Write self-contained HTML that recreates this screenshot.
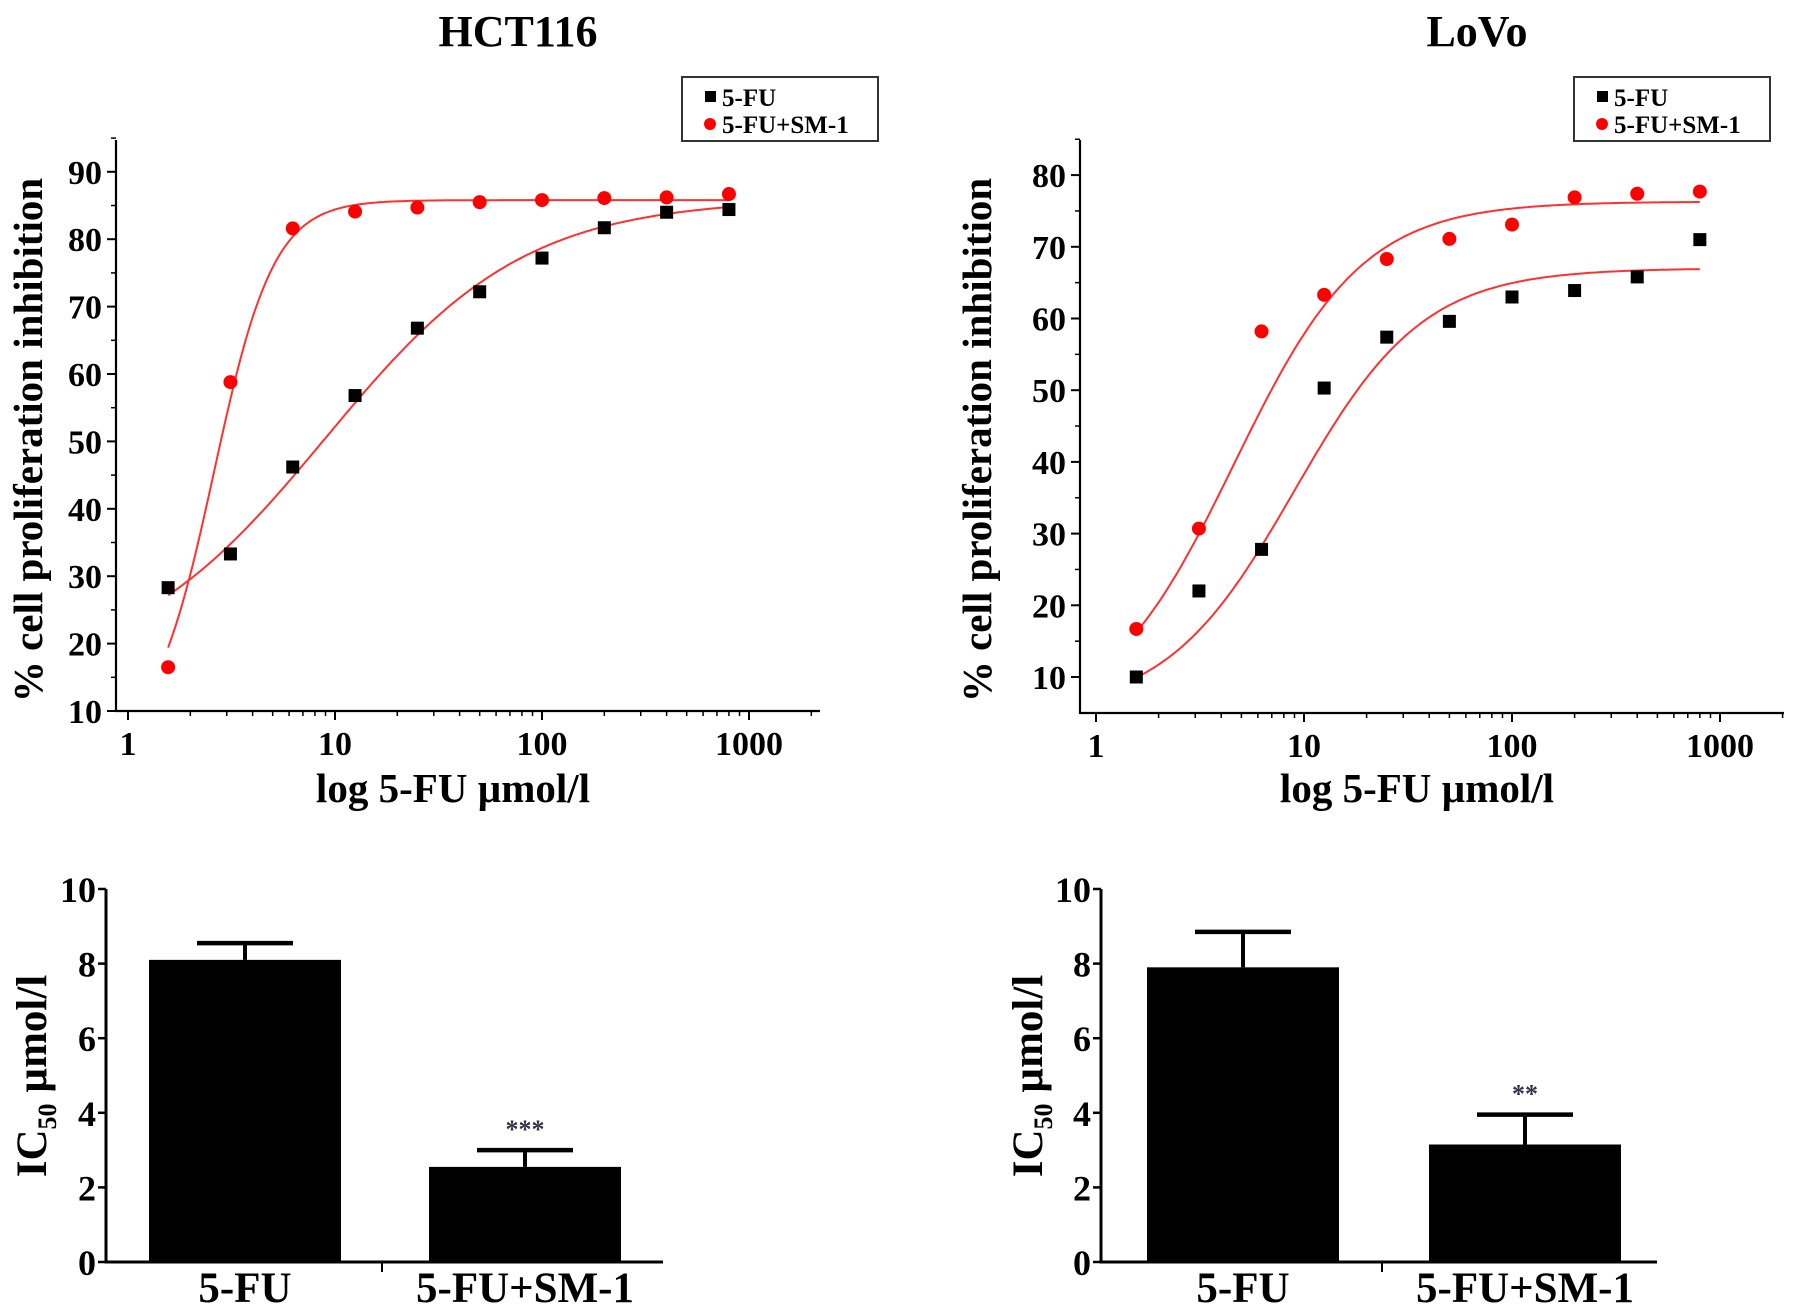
<!DOCTYPE html>
<html><head><meta charset="utf-8"><style>
html,body{margin:0;padding:0;background:#fff;}
svg{display:block;font-family:"Liberation Serif",serif;font-weight:bold;}
</style></head><body>
<svg id="fig" width="1795" height="1310" viewBox="0 0 1795 1310"></svg>
<script>
const doses = [1.5625,3.125,6.25,12.5,25,50,100,200,400,800];
const hctFU = [28.3,33.3,46.2,56.8,66.8,72.2,77.2,81.7,84.0,84.4];
const hctSM = [16.5,58.8,81.6,84.1,84.7,85.5,85.8,86.1,86.2,86.7];
const lovoFU = [10.0,22.0,27.8,50.3,57.4,59.6,63.0,63.9,65.8,71.0];
const lovoSM = [16.7,30.7,58.2,63.3,68.3,71.1,73.1,76.9,77.4,77.7];
// fitted curve parameters [bottom, top, ec50, hill]
const hctFUfit = [15,86,9,0.9];
const hctSMfit = [5,85.8,2.6,3];
const lovoFUfit = [5,67,9,1.4];
const lovoSMfit = [3,76.3,4.6,1.4];
const xTickLabels = ["1","10","100","1000"];
const hctYTicks = [10,20,30,40,50,60,70,80,90];
const lovoYTicks = [10,20,30,40,50,60,70,80];
const barCategories = ["5-FU","5-FU+SM-1"];
const hctIC50 = [8.1,2.55];
const hctErr = [0.45,0.45];
const lovoIC50 = [7.9,3.15];
const lovoErr = [0.95,0.8];
const barYTicks = [0,2,4,6,8,10];
const hctStars = "***";
const lovoStars = "**";

const svg = document.getElementById('fig');
const NS = 'http://www.w3.org/2000/svg';
function el(tag, attrs, parent, text){
  const e = document.createElementNS(NS, tag);
  for (const k in attrs) e.setAttribute(k, attrs[k]);
  if (text !== undefined) e.textContent = text;
  (parent||svg).appendChild(e);
  return e;
}

function lineChart(cfg){
  const g = el('g',{});
  
  
  const xs = v => cfg.x1 + Math.log10(v)*cfg.dec;
  const ys = v => cfg.yBase - (v - cfg.yRef)*cfg.ppu;
  const ax = el('path',{d:`M${cfg.ax} ${cfg.top} V${cfg.axY} H${cfg.right}`,stroke:'#000','stroke-width':2.2,fill:'none'},g);
  
  
  cfg.yTicks.forEach(t=>{
    const y = ys(t);
    el('line',{x1:cfg.ax-9,x2:cfg.ax,y1:y,y2:y,stroke:'#000','stroke-width':2},g);
    el('line',{x1:cfg.ax-5,x2:cfg.ax,y1:ys(t+5),y2:ys(t+5),stroke:'#000','stroke-width':1.5},g);
    const tl = el('text',{x:cfg.ax-14,y:y+12,'text-anchor':'end','font-size':34},g,String(t));
    
    
  });
  xTickLabels.forEach((lab,i)=>{
    const x = xs(Math.pow(10,i));
    el('line',{x1:x,x2:x,y1:cfg.axY,y2:cfg.axY+9,stroke:'#000','stroke-width':2},g);
    const tl = el('text',{x:x,y:cfg.axY+44,'text-anchor':'middle','font-size':34},g,lab);
    
    
    for(let m=2;m<10;m++){
      const xm = xs(m*Math.pow(10,i));
      if (xm < cfg.right) el('line',{x1:xm,x2:xm,y1:cfg.axY,y2:cfg.axY+5,stroke:'#000','stroke-width':1.5},g);
    }
  });
  [cfg.fitA,cfg.fitB].forEach(p=>{
    let d='';
    for(let i=0;i<=200;i++){
      const lx = Math.log10(doses[0]) + (Math.log10(doses[9])-Math.log10(doses[0]))*i/200;
      const v = Math.pow(10,lx);
      const val = p[0] + (p[1]-p[0])/(1+Math.pow(p[2]/v,p[3]));
      d += (i?'L':'M') + xs(v).toFixed(1)+' '+ys(val).toFixed(1);
    }
    const c = el('path',{d:d,stroke:'#ff3030','stroke-width':2,fill:'none'},g);
    
    
  });
  cfg.dataA.forEach((v,i)=>{
    const s = el('rect',{x:xs(doses[i])-6.5,y:ys(v)-6.5,width:13,height:13,fill:'#000'},g);
    
    
  });
  cfg.dataB.forEach((v,i)=>{
    const s = el('circle',{cx:xs(doses[i]),cy:ys(v),r:7,fill:'#ff0000'},g);
    
    
  });
  const t = el('text',{x:cfg.titleX,y:46,'text-anchor':'middle','font-size':44},g,cfg.title);
  
  
  const xt = el('text',{x:(cfg.ax+cfg.right)/2-15,y:802,'text-anchor':'middle','font-size':41},g,'log 5-FU µmol/l');
  
  
  const yt = el('text',{x:0,y:0,'text-anchor':'middle','font-size':41,transform:`translate(${cfg.yTitleX},${cfg.yTitleY}) rotate(-90)`},g,'% cell proliferation inhibition');
  
  
  const lg = el('g',{},g);
  
  
  el('rect',{x:cfg.legX,y:77,width:196,height:64,fill:'#fff',stroke:'#333','stroke-width':2},lg);
  el('rect',{x:cfg.legX+23,y:91,width:11,height:11,fill:'#000'},lg);
  el('circle',{cx:cfg.legX+28,cy:124,r:6,fill:'#ff0000'},lg);
  const l1 = el('text',{x:cfg.legX+40,y:106,'font-size':25},lg,'5-FU');
  
  
  const l2 = el('text',{x:cfg.legX+40,y:133,'font-size':25},lg,'5-FU+SM-1');
  
  
}

lineChart({name:'hct116-curve-chart',title:'HCT116',titleX:518,ax:116,axY:711,top:140,right:820,x1:128,dec:207,
  yBase:711,yRef:10,ppu:6.74,yTicks:hctYTicks,dataA:hctFU,dataB:hctSM,fitA:hctFUfit,fitB:hctSMfit,
  yTitleX:42,yTitleY:440,legX:682});
lineChart({name:'lovo-curve-chart',title:'LoVo',titleX:1477,ax:1080,axY:713,top:140,right:1784,x1:1096,dec:208,
  yBase:677,yRef:10,ppu:7.17,yTicks:lovoYTicks,dataA:lovoFU,dataB:lovoSM,fitA:lovoFUfit,fitB:lovoSMfit,
  yTitleX:991,yTitleY:440,legX:1574});

function barChart(cfg){
  const g = el('g',{});
  
  
  const ys = v => 1262 - v*37.3;
  el('path',{d:`M${cfg.ax} ${ys(10)} V1262 H${cfg.right}`,stroke:'#000','stroke-width':3,fill:'none'},g);
  barYTicks.forEach(t=>{
    el('line',{x1:cfg.ax-8,x2:cfg.ax,y1:ys(t),y2:ys(t),stroke:'#000','stroke-width':2.5},g);
    const tl = el('text',{x:cfg.ax-10,y:ys(t)+13,'text-anchor':'end','font-size':36},g,String(t));
    
    
  });
  el('line',{x1:cfg.mid,x2:cfg.mid,y1:1262,y2:1272,stroke:'#000','stroke-width':2},g);
  cfg.vals.forEach((v,i)=>{
    const x0 = cfg.barX[i], w = 192, cx = x0 + w/2;
    el('line',{x1:cx,x2:cx,y1:ys(v),y2:ys(v+cfg.err[i]),stroke:'#000','stroke-width':4},g);
    el('line',{x1:cx-48,x2:cx+48,y1:ys(v+cfg.err[i]),y2:ys(v+cfg.err[i]),stroke:'#000','stroke-width':4.5},g);
    const b = el('rect',{x:x0,y:ys(v),width:w,height:1262-ys(v),fill:'#000'},g);
    
    
    const lab = el('text',{x:cx,y:1302,'text-anchor':'middle','font-size':43},g,barCategories[i]);
    
    
  });
  const cx2 = cfg.barX[1]+96;
  const st = el('text',{x:cx2,y:ys(cfg.vals[1]+cfg.err[1])-12,'text-anchor':'middle','font-size':26,fill:'#334'},g,cfg.stars);
  
  
  const yt = el('text',{x:0,y:0,'text-anchor':'middle','font-size':43,transform:`translate(${cfg.yTitleX},1076) rotate(-90)`},g);
  
  
  el('tspan',{},yt,'IC');
  el('tspan',{'font-size':26,dy:10},yt,'50');
  el('tspan',{dy:-10},yt,' µmol/l');
}
barChart({name:'hct116-ic50-bar-chart',ax:106,right:663,mid:382,barX:[149,429],vals:hctIC50,err:hctErr,stars:hctStars,yTitleX:46});
barChart({name:'lovo-ic50-bar-chart',ax:1101,right:1657,mid:1382,barX:[1147,1429],vals:lovoIC50,err:lovoErr,stars:lovoStars,yTitleX:1042});
</script>
</body></html>
